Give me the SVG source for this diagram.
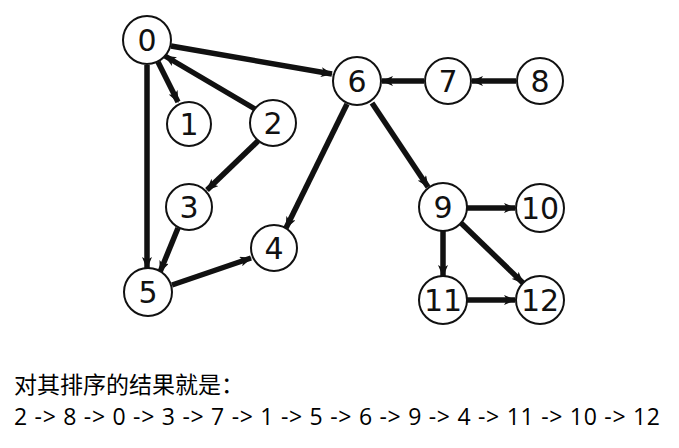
<svg xmlns="http://www.w3.org/2000/svg" width="679" height="448" viewBox="0 0 679 448">
<style>
.n circle{fill:#fff;stroke:#111;stroke-width:2}
.n text{font-family:"DejaVu Sans",sans-serif;font-size:30px;fill:#111;text-anchor:middle;dominant-baseline:central}
.e line{stroke:#111;stroke-width:5.5}
.t{font-family:"Open Sans","Noto Sans CJK SC",sans-serif;font-size:23px;fill:#000}
</style>
<defs>
<marker id="a" viewBox="0 0 12 10" refX="11" refY="5" markerWidth="12" markerHeight="10" markerUnits="userSpaceOnUse" orient="auto">
<path d="M0,0 L12,5 L0,10 L3,5 Z" fill="#111"/>
</marker>
</defs>
<rect width="679" height="448" fill="#fff"/>
<g class="e">
<line x1="171" y1="46" x2="332" y2="74" marker-end="url(#a)"/>
<line x1="158" y1="62" x2="178" y2="102" marker-end="url(#a)"/>
<line x1="255" y1="109" x2="165" y2="56" marker-end="url(#a)"/>
<line x1="147" y1="65" x2="147" y2="268" marker-end="url(#a)"/>
<line x1="258" y1="141" x2="207" y2="190" marker-end="url(#a)"/>
<line x1="178" y1="228" x2="160" y2="272" marker-end="url(#a)"/>
<line x1="172" y1="285" x2="251" y2="258" marker-end="url(#a)"/>
<line x1="347" y1="104" x2="286" y2="228" marker-end="url(#a)"/>
<line x1="424" y1="81" x2="382" y2="81" marker-end="url(#a)"/>
<line x1="516" y1="81" x2="472" y2="81" marker-end="url(#a)"/>
<line x1="372" y1="103" x2="428" y2="187" marker-end="url(#a)"/>
<line x1="467" y1="208" x2="515" y2="208" marker-end="url(#a)"/>
<line x1="443" y1="231" x2="443" y2="276" marker-end="url(#a)"/>
<line x1="461" y1="223" x2="523" y2="283" marker-end="url(#a)"/>
<line x1="467" y1="300" x2="515" y2="300" marker-end="url(#a)"/>
</g>
<g id="n0" class="n"><circle cx="147" cy="40" r="24"/><text x="147" y="40">0</text></g>
<g id="n1" class="n"><circle cx="189" cy="124" r="22"/><text x="189" y="124">1</text></g>
<g id="n2" class="n"><circle cx="273" cy="123" r="23"/><text x="273" y="123">2</text></g>
<g id="n3" class="n"><circle cx="189" cy="207" r="23"/><text x="189" y="207">3</text></g>
<g id="n4" class="n"><circle cx="274" cy="248" r="23"/><text x="274" y="248">4</text></g>
<g id="n5" class="n"><circle cx="148" cy="292" r="24"/><text x="148" y="292">5</text></g>
<g id="n6" class="n"><circle cx="357" cy="81" r="24"/><text x="357" y="81">6</text></g>
<g id="n7" class="n"><circle cx="448" cy="81" r="23"/><text x="448" y="81">7</text></g>
<g id="n8" class="n"><circle cx="540" cy="81" r="23"/><text x="540" y="81">8</text></g>
<g id="n9" class="n"><circle cx="443" cy="207" r="24"/><text x="443" y="207">9</text></g>
<g id="n10" class="n"><circle cx="540" cy="208" r="24"/><text x="540" y="208">10</text></g>
<g id="n11" class="n"><circle cx="443" cy="300" r="24"/><text x="443" y="300">11</text></g>
<g id="n12" class="n"><circle cx="540" cy="300" r="24"/><text x="540" y="300">12</text></g>
<text class="t" x="14" y="393" font-size="27">对其排序的结果就是：</text>
<text class="t" x="14" y="425" textLength="646" lengthAdjust="spacing">2 -&gt; 8 -&gt; 0 -&gt; 3 -&gt; 7 -&gt; 1 -&gt; 5 -&gt; 6 -&gt; 9 -&gt; 4 -&gt; 11 -&gt; 10 -&gt; 12</text>
</svg>
